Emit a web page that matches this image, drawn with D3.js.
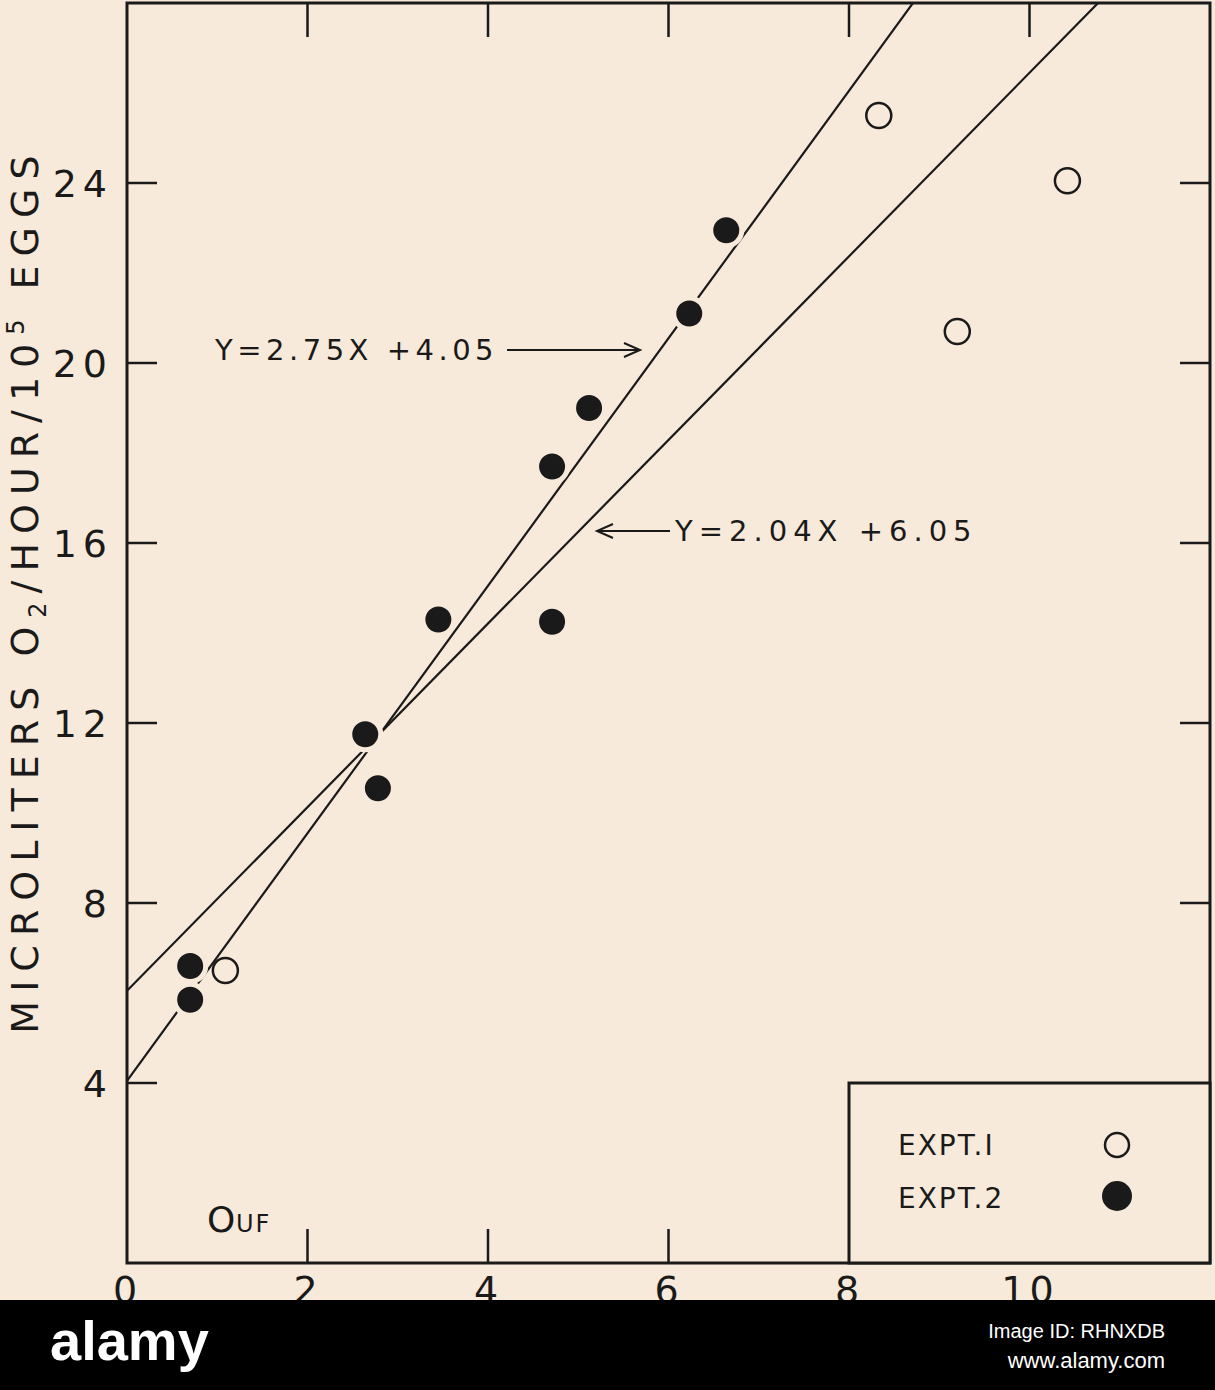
<!DOCTYPE html>
<html><head><meta charset="utf-8">
<script src="https://cdn.jsdelivr.net/npm/d3@7"></script>
<style>body{margin:0;background:#f8eadb}svg{display:block}</style>
</head><body>
<script>
// 数据
const expt1 = [[1.09, 6.5], [8.33, 25.5], [10.42, 24.05], [9.2, 20.7]];
const expt2 = [[0.7, 6.6], [0.7, 5.85], [2.64, 11.75], [2.78, 10.55], [3.45, 14.3],
  [4.71, 17.7], [5.12, 19.0], [4.71, 14.25], [6.23, 21.1], [6.64, 22.95]];
const fits = [[2.75, 4.05], [2.04, 6.05]];
const yTicks = [4, 8, 12, 16, 20, 24];
const xTicks = [0, 2, 4, 6, 8, 10];

const W = 1215, H = 1390, bg = '#f8eadb', ink = '#1a1a1a';
const x = d3.scaleLinear().domain([0, 12]).range([127, 1210]);
const y = d3.scaleLinear().domain([0, 28]).range([1263, 3]);

const svg = d3.select('body').append('svg').attr('width', W).attr('height', H)
  .style('font-family', '"DejaVu Sans", sans-serif');
svg.append('rect').attr('width', W).attr('height', H).attr('fill', bg);

svg.append('clipPath').attr('id', 'c').append('rect')
  .attr('x', x(0)).attr('y', y(28)).attr('width', x(12) - x(0)).attr('height', y(0) - y(28));

// 框
svg.append('rect').attr('x', x(0)).attr('y', y(28)).attr('width', x(12) - x(0)).attr('height', y(0) - y(28))
  .attr('fill', 'none').attr('stroke', ink).attr('stroke-width', 3);

// 刻度
const g = svg.append('g').attr('stroke', ink).attr('stroke-width', 2.5);
[2, 4, 6, 8, 10].forEach(v => g.append('line').attr('x1', x(v)).attr('x2', x(v)).attr('y1', y(28)).attr('y2', y(28) + 34));
[2, 4, 6].forEach(v => g.append('line').attr('x1', x(v)).attr('x2', x(v)).attr('y1', y(0)).attr('y2', y(0) - 34));
yTicks.forEach(v => g.append('line').attr('x1', x(0)).attr('x2', x(0) + 30).attr('y1', y(v)).attr('y2', y(v)));
yTicks.filter(v => v > 4).forEach(v => g.append('line').attr('x1', x(12)).attr('x2', x(12) - 30).attr('y1', y(v)).attr('y2', y(v)));

svg.selectAll('.yl').data(yTicks).join('text').attr('x', x(0) - 14).attr('y', d => y(d) + 14)
  .attr('text-anchor', 'end').attr('font-size', 38).attr('fill', ink).attr('letter-spacing', 6)
  .text(d => d);
svg.selectAll('.xl').data(xTicks).join('text').attr('x', d => x(d)).attr('y', y(0) + 40)
  .attr('text-anchor', 'middle').attr('font-size', 38).attr('fill', ink).attr('letter-spacing', 4)
  .text(d => d);

// 拟合线
svg.append('g').attr('clip-path', 'url(#c)').selectAll('line').data(fits).join('line')
  .attr('x1', x(0)).attr('y1', d => y(d[1])).attr('x2', x(12)).attr('y2', d => y(d[0] * 12 + d[1]))
  .attr('stroke', ink).attr('stroke-width', 2.2);

// 点
svg.selectAll('.e2').data(expt2).join('circle').attr('cx', d => x(d[0])).attr('cy', d => y(d[1]))
  .attr('r', 15.5).attr('fill', ink).attr('stroke', bg).attr('stroke-width', 5);
svg.selectAll('.e1').data(expt1).join('circle').attr('cx', d => x(d[0])).attr('cy', d => y(d[1]))
  .attr('r', 12.5).attr('fill', bg).attr('stroke', ink).attr('stroke-width', 2.5);

// 注释
const t = (tx, ty, s, size, ls) => svg.append('text').attr('x', tx).attr('y', ty).attr('font-size', size)
  .attr('fill', ink).attr('letter-spacing', ls).text(s);
t(215, 360, 'Y=2.75X +4.05', 29, 4.5);
t(675, 541, 'Y=2.04X +6.05', 29, 6);
const arrow = (x1, x2, yy) => {
  svg.append('line').attr('x1', x1).attr('x2', x2).attr('y1', yy).attr('y2', yy).attr('stroke', ink).attr('stroke-width', 2);
  const dir = Math.sign(x2 - x1);
  svg.append('path').attr('d', `M${x2 - dir * 16},${yy - 7}L${x2},${yy}L${x2 - dir * 16},${yy + 7}`)
    .attr('fill', 'none').attr('stroke', ink).attr('stroke-width', 2);
};
arrow(507, 640, 350);
arrow(670, 597, 531);
t(207, 1232, 'O', 36, 0);
t(236, 1232, 'UF', 24, 2);

// 图例
svg.append('rect').attr('x', x(8)).attr('y', y(4)).attr('width', x(12) - x(8)).attr('height', y(0) - y(4))
  .attr('fill', bg).attr('stroke', ink).attr('stroke-width', 3);
t(898, 1155, 'EXPT.I', 28, 2);
t(898, 1208, 'EXPT.2', 28, 2);
svg.append('circle').attr('cx', 1117).attr('cy', 1145).attr('r', 12).attr('fill', 'none').attr('stroke', ink).attr('stroke-width', 2.5);
svg.append('circle').attr('cx', 1117).attr('cy', 1196).attr('r', 15).attr('fill', ink);

// 纵轴标题
svg.append('text').attr('transform', 'translate(38,590) rotate(-90)').attr('text-anchor', 'middle')
  .attr('font-size', 38).attr('fill', ink).attr('letter-spacing', 9)
  .html('MICROLITERS O<tspan font-size="24" dy="8">2</tspan><tspan dy="-8">/HOUR/10</tspan><tspan font-size="24" dy="-14">5</tspan><tspan dy="14"> EGGS</tspan>');

// 水印条
svg.append('rect').attr('x', 0).attr('y', 1300).attr('width', W).attr('height', 90).attr('fill', '#000');
svg.append('text').attr('x', 50).attr('y', 1360).attr('font-size', 56).attr('font-weight', 'bold')
  .attr('fill', '#fff').attr('font-family', '"Liberation Sans Narrow", "Liberation Sans", sans-serif').text('alamy');
svg.append('text').attr('x', 1165).attr('y', 1338).attr('font-size', 20).attr('text-anchor', 'end')
  .attr('fill', '#fff').attr('font-family', '"Liberation Sans Narrow", sans-serif').text('Image ID: RHNXDB');
svg.append('text').attr('x', 1165).attr('y', 1368).attr('font-size', 22).attr('text-anchor', 'end')
  .attr('fill', '#fff').attr('font-family', '"Liberation Sans Narrow", sans-serif').text('www.alamy.com');
</script>
</body></html>
